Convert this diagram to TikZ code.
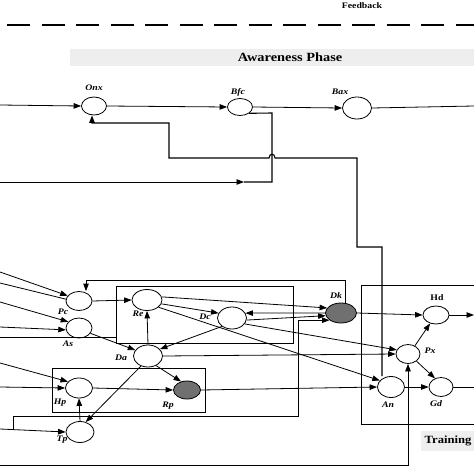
\documentclass[tikz,border=0pt]{standalone}
\usepackage{fontspec}
\setmainfont{Liberation Serif}
\newfontfamily\wf[FakeStretch=1.15]{Liberation Serif}
\usetikzlibrary{shapes.geometric,arrows.meta,calc}
\definecolor{dkg}{RGB}{112,112,112}
\definecolor{barg}{RGB}{238,238,238}
\begin{document}
\begin{tikzpicture}[x=1pt,y={(0,-1pt)},
  st/.style={ellipse,draw,line width=0.8pt,inner sep=0pt,fill=white},
  sz/.style 2 args={minimum width=#1pt,minimum height=#2pt},
  dk/.style={st,fill=dkg},
  lbl/.style={font=\wf\bfseries\itshape\fontsize{8.5}{9}\selectfont,inner sep=0pt},
  ln/.style={line width=0.8pt},
  fb/.style={line width=1.1pt},
  tip/.tip={Triangle[length=7.5pt,width=5.5pt]},
  arr/.style={ln,-tip},
  fbarr/.style={fb,-tip},
  bx/.style={line width=0.9pt}]
\useasboundingbox (0,0) rectangle (474,474);

% header
\node[font=\wf\bfseries\fontsize{8.5}{9}\selectfont,inner sep=0pt] (fbt) at (362,6) {Feedback};
\coordinate (dA) at (7,25); \coordinate (dB) at (480,25);
\draw[line width=1.6pt,dash pattern=on 23pt off 11.5pt] (dA) -- (dB);
\fill[barg] (70,49) rectangle (480,66);
\node[font=\wf\bfseries\fontsize{12.5}{13}\selectfont,inner sep=0pt] (aw) at (290,57.5) {Awareness Phase};
\fill[barg] (421,431) rectangle (480,451);
\node[font=\wf\bfseries\fontsize{11}{12}\selectfont,inner sep=0pt,anchor=west] (tr) at (424.5,441) {Training};

% boxes
\draw[bx] (116,286) rectangle (293,343);
\draw[bx] (52,368) rectangle (205,412);
\draw[bx] (361,285) rectangle (482,424);

% nodes
\node[st,sz={25}{18}] (Onx) at (94,106) {};
\node[st,sz={25}{17}] (Bfc) at (240,107) {};
\node[st,sz={29}{22}] (Bax) at (357,108) {};
\node[st,sz={26}{19}] (Pc) at (79,301) {};
\node[st,sz={26}{20}] (As) at (79,328) {};
\node[st,sz={30}{21}] (Re) at (147,300) {};
\node[st,sz={29}{22}] (Dc) at (232,318) {};
\node[dk,sz={31}{20}] (Dk) at (341,313) {};
\node[st,sz={29}{22}] (Da) at (148,356) {};
\node[st,sz={27}{20}] (Hp) at (79,388) {};
\node[dk,sz={27}{18}] (Rp) at (187,390) {};
\node[st,sz={28}{21}] (Tp) at (80,432) {};
\node[st,sz={26}{18}] (Hd) at (436,315) {};
\node[st,sz={24}{19}] (Px) at (408,354) {};
\node[st,sz={27}{21}] (An) at (391,387) {};
\node[st,sz={24}{19}] (Gd) at (441,387) {};

% coordinates
\coordinate (L1) at (0,105);
\coordinate (R0) at (474,106);
\coordinate (fbA) at (382,247);
\coordinate (fbB) at (357,247);
\coordinate (fbC) at (357,158);
\coordinate (hopR) at (275,158);
\coordinate (hopL) at (269,158);
\coordinate (fbD) at (169,158);
\coordinate (fbE) at (169,123);
\coordinate (fbF) at (92,123);
\coordinate (L2) at (0,182);
\coordinate (m2) at (244,182);
\coordinate (b2) at (272,182);
\coordinate (b3) at (272,113);
\coordinate (k1) at (345,280);
\coordinate (k2) at (86,280);
\coordinate (Li1) at (0,272);
\coordinate (Li2) at (0,283);
\coordinate (Li3) at (0,302);
\coordinate (Li4) at (0,327);
\coordinate (Li5) at (0,337);
\coordinate (Li5e) at (116,337);
\coordinate (Li6) at (0,363);
\coordinate (Li7) at (0,387);
\coordinate (Li8) at (0,429);
\coordinate (t1) at (13,429);
\coordinate (t2) at (298,416);
\coordinate (Li9) at (0,465);
\coordinate (Ro1) at (474,315);
\coordinate (Ro2) at (474,387);

% top row
\draw[arr] (L1) -- (Onx.west);
\draw[arr] (Onx.east) -- (Bfc.west);
\draw[arr] (Bfc.east) -- (Bax.west);
\draw[ln] (Bax.east) -- (R0);

% feedback path
\draw[fbarr] (An.north -| fbA) -- (fbA) -- (fbB) -- (fbC) -- (hopR)
  .. controls (275,153) and (269,153) .. (hopL) -- (fbD) -- (fbE) -- (fbF) -- (fbF |- Onx.south);
\draw[arr] (L2) -- (m2);
\draw[fb] (m2) -- (b2) -- (b3) -- (Bfc.south east);

% Dk to Pc
\draw[arr] (k1 |- Dk.north) -- (k1) -- (k2) -- (k2 |- Pc.north);

% left inputs
\draw[arr] (Li1) -- (Pc.155);
\draw[ln] (Li2) -- (Pc.172);
\draw[arr] (Li3) -- (As.150);
\draw[arr] (Li4) -- (As.188);
\draw[ln] (Li5) -- (Li5e);
\draw[arr] (Li6) -- (Hp.150);
\draw[arr] (Li7) -- (Hp.west);
\draw[arr] (Li8) -- (Tp.west);
\draw[arr] (t1) |- (t2) |- (Dk.212);
\draw[arr] (Li9) -| (Px.south);

% inner connections
\draw[arr] (Pc.east) -- (Re.west);
\draw[arr] (As.-25) -- (Da.155);
\draw[arr] (Re.12) -- (Dk.160);
\draw[arr] (Re.-15) -- (Dc.160);
\draw[arr] (Re.-32) -- (An.150);
\draw[arr] (Dk.west) -- (Dc.20);
\draw[arr] (Dc.-8) -- (Dk.190);
\draw[arr] (Dc.220) -- (Da.30);
\draw[arr] (Dc.-25) -- (Px.160);
\draw[arr] (Da.north) -- (Re.south);
\draw[arr] (Da.east) -- (Px.west);
\draw[arr] (Da.235) -- (Tp.60);
\draw[arr] (Da.-50) -- (Rp.125);
\draw[arr] (Hp.east) -- (Rp.west);
\draw[arr] (Rp.east) -- (An.west);
\draw[arr] (Tp.north) -- (Hp.south);
\draw[arr] (Dk.east) -- (Hd.west);
\draw[arr] (Px.50) -- (Hd.235);
\draw[arr] (Px.-40) -- (Gd.125);
\draw[arr] (An.east) -- (Gd.west);
\draw[arr] (Hd.east) -- (Ro1);
\draw[ln] (Gd.east) -- (Ro2);

% labels (on top)
\node[lbl] (lOnx) at (94,88) {Onx};
\node[lbl] (lBfc) at (238,92) {Bfc};
\node[lbl] (lBax) at (340,92) {Bax};
\node[lbl] (lPc) at (63,312) {Pc};
\node[lbl] (lAs) at (68,344) {As};
\node[lbl] (lRe) at (138,314) {Re};
\node[lbl] (lDc) at (205,317) {Dc};
\node[lbl] (lDk) at (336,296) {Dk};
\node[lbl] (lDa) at (121,358) {Da};
\node[lbl] (lHp) at (60,403) {Hp};
\node[lbl] (lRp) at (168,406) {Rp};
\node[lbl] (lTp) at (62,440) {Tp};
\node[lbl,font=\wf\bfseries\fontsize{8.5}{9}\selectfont] (lHd) at (437,298) {Hd};
\node[lbl] (lPx) at (430,351) {Px};
\node[lbl] (lAn) at (388,405) {An};
\node[lbl] (lGd) at (436,404) {Gd};
\end{tikzpicture}
\end{document}
